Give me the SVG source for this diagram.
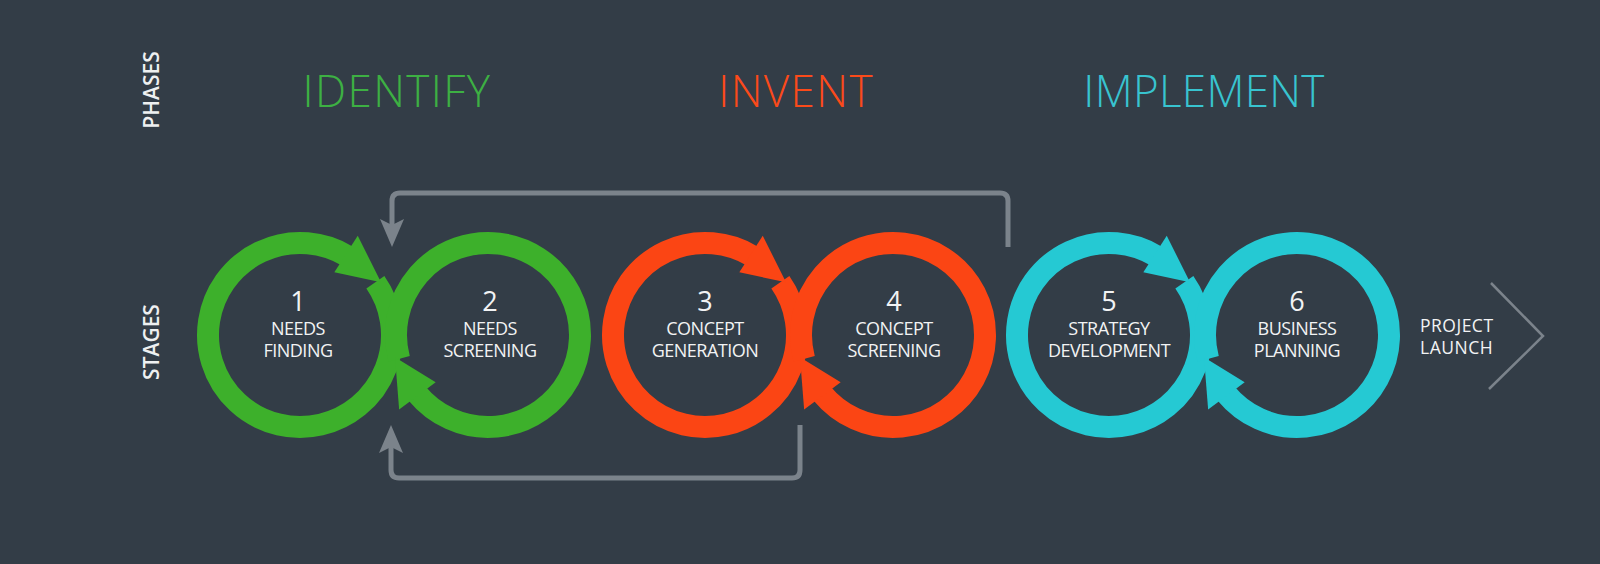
<svg xmlns="http://www.w3.org/2000/svg" xmlns:xlink="http://www.w3.org/1999/xlink" width="1600" height="564" viewBox="0 0 1600 564">
<style>
.phase{font-family:"Open Sans","Liberation Sans",sans-serif;font-size:44px;font-weight:300;text-anchor:middle}
.side{font-family:"Open Sans","Liberation Sans",sans-serif;font-size:21px;font-weight:600;fill:#eef0f1;text-anchor:middle}
.num{font-family:"Open Sans","Liberation Sans",sans-serif;font-size:27px;fill:#f2f3f4;text-anchor:middle}
.lbl{font-family:"Open Sans","Liberation Sans",sans-serif;font-size:18px;fill:#f2f3f4;text-anchor:middle;letter-spacing:-0.5px}
.pl{font-family:"Open Sans","Liberation Sans",sans-serif;font-size:17.5px;fill:#f2f3f4;letter-spacing:0.5px}
.conn{fill:none;stroke:#7b838b;stroke-width:5}
</style>
<defs>
<marker id="ah" markerUnits="userSpaceOnUse" viewBox="0 0 28 24" markerWidth="28" markerHeight="24" refX="6" refY="12" orient="auto">
<path d="M0,0 L28,12 L0,24 L6,12 Z" fill="#7b838b"/>
</marker>
<g id="ringL">
<path d="M 75.36 -52.77 A 92 92 0 1 1 47.38 -78.86" fill="none" stroke="currentColor" stroke-width="22"/>
<polygon points="34.34,-62.72 57.75,-99.22 81,-52.7" fill="currentColor"/>
</g>
<g id="ringR">
<path d="M -88.87 23.81 A 92 92 0 1 1 -70.99 58.52" fill="none" stroke="currentColor" stroke-width="22"/>
<polygon points="-52.31,47.27 -88.86,74.56 -93,22.3" fill="currentColor"/>
</g>
</defs>
<rect width="1600" height="564" fill="#333d47"/>

<g id="axis-labels">
<text class="side" transform="translate(159,90) rotate(-90)">PHASES</text>
<text class="side" transform="translate(159,342) rotate(-90)">STAGES</text>
</g>

<g id="phases">
<text class="phase" x="397" y="107" fill="#3db043" letter-spacing="1.4">IDENTIFY</text>
<text class="phase" x="796" y="107" fill="#fb4a1a" letter-spacing="1.4">INVENT</text>
<text class="phase" x="1204" y="107" fill="#38c4d0" letter-spacing="0.3">IMPLEMENT</text>
</g>

<g id="connectors">
<path class="conn" d="M 1008 247 V 201 Q 1008 193 1000 193 H 400 Q 392 193 392 201 V 225" marker-end="url(#ah)"/>
<path class="conn" d="M 800 425 V 470 Q 800 478 792 478 H 399 Q 391 478 391 470 V 447" marker-end="url(#ah)"/>
<polyline points="1491,283 1543,336 1489,389" fill="none" stroke="#7b838b" stroke-width="2.5"/>
</g>

<g id="stage1">
<use xlink:href="#ringL" transform="translate(300,335)" color="#3db02b"/>
<text class="num" x="298" y="311">1</text>
<text class="lbl" x="298" y="335">NEEDS</text>
<text class="lbl" x="298" y="357">FINDING</text>
</g>
<g id="stage2">
<use xlink:href="#ringR" transform="translate(488,335)" color="#3db02b"/>
<text class="num" x="490" y="311">2</text>
<text class="lbl" x="490" y="335">NEEDS</text>
<text class="lbl" x="490" y="357">SCREENING</text>
</g>
<g id="stage3">
<use xlink:href="#ringL" transform="translate(705,335)" color="#fb4514"/>
<text class="num" x="705" y="311">3</text>
<text class="lbl" x="705" y="335">CONCEPT</text>
<text class="lbl" x="705" y="357">GENERATION</text>
</g>
<g id="stage4">
<use xlink:href="#ringR" transform="translate(893,335)" color="#fb4514"/>
<text class="num" x="894" y="311">4</text>
<text class="lbl" x="894" y="335">CONCEPT</text>
<text class="lbl" x="894" y="357">SCREENING</text>
</g>
<g id="stage5">
<use xlink:href="#ringL" transform="translate(1109,335)" color="#25c9d3"/>
<text class="num" x="1109" y="311">5</text>
<text class="lbl" x="1109" y="335">STRATEGY</text>
<text class="lbl" x="1109" y="357">DEVELOPMENT</text>
</g>
<g id="stage6">
<use xlink:href="#ringR" transform="translate(1297,335)" color="#25c9d3"/>
<text class="num" x="1297" y="311">6</text>
<text class="lbl" x="1297" y="335">BUSINESS</text>
<text class="lbl" x="1297" y="357">PLANNING</text>
</g>

<g id="launch">
<text class="pl" x="1420" y="332">PROJECT</text>
<text class="pl" x="1420" y="353.5">LAUNCH</text>
</g>
</svg>
